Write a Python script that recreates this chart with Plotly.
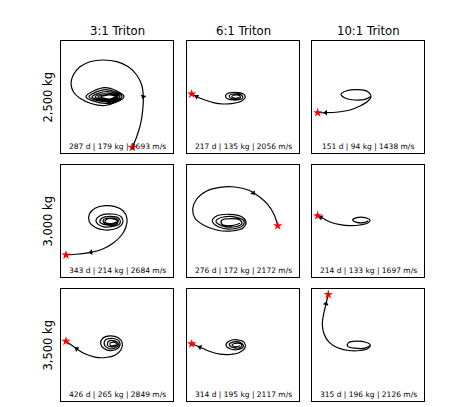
import math
import plotly.graph_objects as go

col_titles = ["3:1 Triton", "6:1 Triton", "10:1 Triton"]
row_titles = ["2,500 kg", "3,000 kg", "3,500 kg"]

stats = [
    ["287 d | 179 kg | 2693 m/s", "217 d | 135 kg | 2056 m/s", "151 d | 94 kg | 1438 m/s"],
    ["343 d | 214 kg | 2684 m/s", "276 d | 172 kg | 2172 m/s", "214 d | 133 kg | 1697 m/s"],
    ["426 d | 265 kg | 2849 m/s", "314 d | 195 kg | 2117 m/s", "315 d | 196 kg | 2126 m/s"],
]

# trajectory points (panel units, 0-112, y downward), first point = star end
traj_11 = [(71.3,106.3),(75.7,95.7),(79.7,82.3),(81.7,69),(82.3,55.7),(80.7,44),(75.7,34),(67.3,25.7),
           (55.7,20.7),(42.3,19),(29,20.7),(19,25.7),(12.3,34),(10,42.3),(12.3,50.7),(19,57.3),(30,62.5),
           (44,64.5),(63,55.7),(44,46.7),(25,55.7),(45,62.5),(61,55.7),(45,48.7),(28,55.7),(46,61),(59,56),
           (46,50.5),(31,56),(47,59.8),(57,56),(47,52),(34,56),(48,58.8),(56,56),(48,53.3),(37,56),
           (49,58.3),(55,56),(49,54),(40,56),(49,58),(54,56)]
traj_12 = [(4.7,53),(9.7,55.7),(18,59),(26.3,61.7),(36.3,63),(46.3,62.3),(54.7,60),(58.3,56.3),(56.3,53),
           (48,51.3),(39.7,53),(38.7,56.3),(46.3,59),(55.7,57.3),(54.7,54.3),(48,53),(42.3,54.7),(44.7,57.7),
           (53,57.3),(53,55),(48,54),(44.7,55.7),(48,57.3),(52.3,56.3)]
traj_13 = [(5.7,71.7),(13.7,71.7),(26.3,71),(38,69),(48,65),(55.7,60.3),(59,55.7),(56.3,51),(46.3,48.7),
           (34.7,49.7),(29,53.3),(33,57),(43,59),(53,58.3),(58.3,55.7)]
traj_21 = [(5,90),(17.3,89),(30,87.3),(42.3,83.7),(52.3,78),(60.7,70),(65,61.7),(66,53.3),(62.3,46),
           (54,41.7),(44,40.7),(34,43.3),(28.3,49.3),(28.3,56.7),(34,62.3),(44,65),(55.7,63.3),(61.7,57.7),
           (60,51.7),(50.7,49),(39,50.7),(35,56),(40.7,61.3),(50.7,61.7),(59,58.3),(58,53.3),(49,51.3),
           (40.7,53.3),(39,57.3),(45.7,60),(55.7,59),(57.3,55),(49,53),(42.3,55),(43.3,58.3),(50.7,59.3),
           (56.7,56.7),(52.3,54),(45.7,54.3),(44,57),(50,58.7),(55.7,56.7)]
traj_22 = [(90.7,60.7),(87.3,50),(80.7,39.3),(72.3,31.7),(61.3,25),(48,22),(33,22.3),(19.7,26),(9.7,34),
           (5.7,44),(8,53.3),(16.3,60),(29.7,65),(44.7,66),(56.3,62.7),(59,56.7),(54.7,51.7),(43,49.3),
           (29.7,51),(25.3,56),(31.3,61.7),(44.7,64),(55.7,60.7),(57,56),(49.7,52.3),(36.3,52),(29,56),
           (34.7,60.7),(46.3,62),(54.7,59),(53,55),(44.7,53.7),(34.7,55.3),(34.7,59),(44.7,60.7),(53,58.3)]
traj_23 = [(5.7,50.7),(9,52.3),(18,57),(28,59.7),(38,60.7),(48,60),(55.7,58),(58,55.3),(53,52.7),
           (44.7,52.7),(40.7,55),(44.7,57.3),(53,57.3),(56.3,55.7)]
traj_31 = [(5,52.2),(10,55.8),(15.7,59.8),(24,64.8),(34,68.2),(44.7,68.5),(54,66.2),(60,60.8),(61.3,54.2),
           (57.3,48.8),(49,46.8),(41.7,49.2),(39.7,54.8),(43.3,59.8),(51.3,61.5),(58,58.2),(58.3,52.5),
           (52.3,49.5),(44.7,50.8),(43.3,55.5),(47.3,59.2),(54.7,58.8),(57.3,54.8),(53.3,51.8),(47.3,52.5),
           (46.7,56.5),(52.3,57.8),(56,55.5),(53.3,53.2),(49,54.2),(50,56.8),(55,56.2)]
traj_32 = [(4.7,54.8),(13,58.2),(23,62.5),(33,65.2),(43,65.5),(52.3,63.5),(58,58.8),(57.3,53.5),(50.3,50.8),
           (42,52.2),(39,56.2),(43,59.8),(51.3,60.5),(56.3,57.5),(54,53.8),(47,52.8),(42.3,55.5),(45.7,58.5),
           (53,58.5),(54.7,55.8),(49.7,54.2),(45,55.8),(48,57.8),(53,56.8)]
traj_33 = [(16.3,5.5),(14,14.8),(11.7,24.8),(10.3,34.8),(12,44.8),(17,53.2),(25.7,58.8),(36.3,61.5),
           (48,61.5),(56.3,59.2),(58.3,55.8),(53.7,53.2),(44.7,52.2),(36.3,53.8),(35.7,57.2),(43,59.2),
           (53,59.2),(58,56.8)]

trajs = [[traj_11, traj_12, traj_13], [traj_21, traj_22, traj_23], [traj_31, traj_32, traj_33]]

# arrow marker positions on each trajectory
arrows = [[(82.3,55.7),(9.7,55.7),(13.7,71.7)],
          [(30,87.3),(66.3,28),(9,52.3)],
          [(15.7,59.8),(13,58.2),(14,14.8)]]

W, H = 474, 407
PAGE_OFFSET = 8  # default body margin of the html page
col_left = [61 - PAGE_OFFSET, 187 - PAGE_OFFSET, 312 - PAGE_OFFSET]
row_top = [41 - PAGE_OFFSET, 165 - PAGE_OFFSET, 289 - PAGE_OFFSET]
SIZE = 112

fig = go.Figure()
layout = dict(width=W, height=H, margin=dict(l=0, r=0, t=0, b=0),
              paper_bgcolor="white", plot_bgcolor="white", showlegend=False,
              font=dict(family="DejaVu Sans", color="black"))
annotations = []
k = 0
for r in range(3):
    for c in range(3):
        k += 1
        xa = "x" if k == 1 else f"x{k}"
        ya = "y" if k == 1 else f"y{k}"
        pts = trajs[r][c]
        xs = [p[0] for p in pts]
        ys = [p[1] for p in pts]
        fig.add_trace(go.Scatter(x=xs, y=ys, mode="lines", xaxis=xa, yaxis=ya,
                                 line=dict(color="black", width=1.2, shape="spline", smoothing=1.0),
                                 hoverinfo="skip"))
        ax, ay = arrows[r][c]
        sx, sy = pts[0]
        ang = math.degrees(math.atan2(sx - ax, -(sy - ay))) % 360
        fig.add_trace(go.Scatter(x=[ax], y=[ay], mode="markers", xaxis=xa, yaxis=ya,
                                 marker=dict(symbol="triangle-up", size=5, color="black", angle=ang),
                                 hoverinfo="skip"))
        fig.add_trace(go.Scatter(x=[sx], y=[sy], mode="markers", xaxis=xa, yaxis=ya,
                                 marker=dict(symbol="star", size=7, color="red", line=dict(width=0)),
                                 hoverinfo="skip"))
        x0 = col_left[c] / W
        x1 = (col_left[c] + SIZE) / W
        y1 = 1 - row_top[r] / H
        y0 = 1 - (row_top[r] + SIZE) / H
        axcommon = dict(showgrid=False, zeroline=False, showticklabels=False, ticks="",
                        showline=True, linecolor="black", linewidth=1, mirror=True)
        layout["xaxis" if k == 1 else f"xaxis{k}"] = dict(domain=[x0, x1], range=[0, SIZE],
                                                          anchor=ya, **axcommon)
        layout["yaxis" if k == 1 else f"yaxis{k}"] = dict(domain=[y0, y1], range=[SIZE, 0],
                                                          anchor=xa, **axcommon)
        annotations.append(dict(text=stats[r][c], xref=f"{xa} domain", yref=f"{ya} domain",
                                x=0.5, y=0.0, xanchor="center", yanchor="bottom",
                                showarrow=False, font=dict(size=7.5, color="black")))
        if r == 0:
            annotations.append(dict(text=col_titles[c], xref="paper", yref="paper",
                                    x=(x0 + x1) / 2, y=y1 + 1 / H, xanchor="center", yanchor="bottom",
                                    showarrow=False, font=dict(size=11.7, color="black")))
        if c == 0:
            annotations.append(dict(text=row_titles[r], xref="paper", yref="paper",
                                    x=(47.5 - PAGE_OFFSET) / W, y=(y0 + y1) / 2, xanchor="center",
                                    yanchor="middle", textangle=-90, showarrow=False,
                                    font=dict(size=11.5, color="black")))
layout["annotations"] = annotations
fig.update_layout(**layout)
fig.write_html("out.html")
